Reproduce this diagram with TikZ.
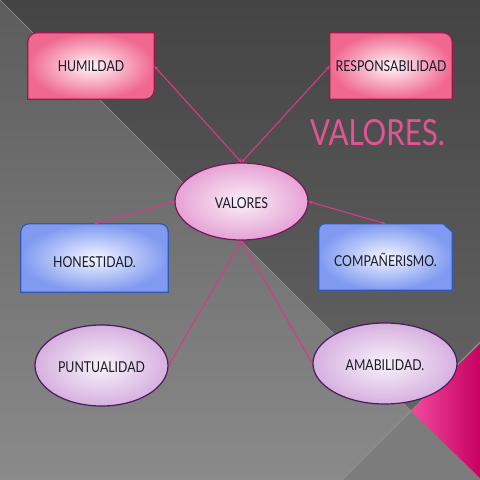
\documentclass[tikz,border=0pt]{standalone}
\usepackage{fontspec}
\newfontfamily\lbl[FakeStretch=0.82]{Lato}
\usetikzlibrary{shapes.geometric,arrows.meta,calc}
\pgfdeclarelayer{bg}
\pgfdeclarelayer{shp}
\pgfsetlayers{bg,shp,main}
\definecolor{bgA}{HTML}{5C5C5C}
\definecolor{bgB}{HTML}{8A8A8A}
\definecolor{bgC}{HTML}{444444}
\definecolor{bgD}{HTML}{646464}
\definecolor{bgE}{HTML}{7C7C7C}
\definecolor{diagc}{HTML}{9C9C9C}
\definecolor{triL}{HTML}{F24A9E}
\definecolor{triR}{HTML}{C8005E}
\definecolor{pinkO}{HTML}{F06890}
\definecolor{pinkI}{HTML}{FFF6F9}
\definecolor{pinkB}{HTML}{9C1848}
\definecolor{blueO}{HTML}{7F9AF0}
\definecolor{blueI}{HTML}{F4F6FF}
\definecolor{blueB}{HTML}{3457B0}
\definecolor{valO}{HTML}{E6A2D5}
\definecolor{valI}{HTML}{FBF0F8}
\definecolor{valB}{HTML}{7B1460}
\definecolor{lavO}{HTML}{D6B0E0}
\definecolor{lavI}{HTML}{F8F2FA}
\definecolor{lavB}{HTML}{4E1A5E}
\definecolor{txtc}{HTML}{1A1A28}
\definecolor{connc}{HTML}{D83A84}
\definecolor{ttlc}{HTML}{E35592}
\begin{document}
\begin{tikzpicture}[x=1pt,y=-1pt,
  lblnode/.style={inner sep=0pt, font=\lbl\fontsize{15}{15}\selectfont, text=txtc, text height=10.8pt, text depth=0pt},
  boxnode/.style={lblnode, rectangle},
  ellnode/.style={lblnode, ellipse, text height=13.8pt},
  valell/.style={ellnode, draw=valB, line width=1.2pt, inner color=valI, outer color=valO},
  lavell/.style={ellnode, draw=lavB, line width=1.2pt, inner color=lavI, outer color=lavO},
  pinkbox/.style={draw=pinkB, line width=1.2pt, inner color=pinkI, outer color=pinkO},
  bluebox/.style={draw=blueB, line width=1.2pt, inner color=blueI, outer color=blueO},
  diag/.style={draw=diagc, line width=0.6pt},
  conn/.style={draw=connc, line width=1.1pt, {Stealth[length=4pt,width=3.5pt]}-{Stealth[length=4pt,width=3.5pt]}},
  ttl/.style={inner sep=0pt, font=\lbl\fontsize{36}{36}\selectfont, text=ttlc}
]
\useasboundingbox (0,0) rectangle (480,480);
\begin{pgfonlayer}{bg}
  \fill[top color=bgA, bottom color=bgB] (0,0) -- (411,411) -- (342,480) -- (0,480) -- cycle;
  \fill[top color=bgC, bottom color=bgD] (0,0) -- (480,0) -- (480,342) -- (411,411) -- cycle;
  \fill[bgE] (342,480) -- (411,411) -- (480,342) -- (480,480) -- cycle;
  \draw[diag] (0,0) -- (411,411);
  \draw[diag] (342,480) -- (480,342);
  \shade[left color=triL, right color=triR] (411,411) -- (480,344) -- (480,478) -- cycle;
\end{pgfonlayer}

% title
\node[ttl, anchor=base] (title) at (377.5,145) {VALORES.};

% box nodes
\node[boxnode, minimum width=126pt, minimum height=66pt] (hum) at (91,66) {HUMILDAD};
\node[boxnode, minimum width=122pt, minimum height=66pt] (resp) at (391,66) {RESPONSABILIDAD};
\node[boxnode, minimum width=147pt, minimum height=68pt, text height=18.8pt] (hon) at (94.5,258) {HONESTIDAD.};
\node[boxnode, minimum width=133pt, minimum height=66pt, text height=18.8pt] (comp) at (385.5,257) {COMPAÑERISMO.};

% ellipse nodes
\node[valell, minimum width=133pt, minimum height=77pt] (val) at (241.5,201.5) {VALORES};
\node[lavell, minimum width=133pt, minimum height=81pt] (punt) at (101.5,365.5) {PUNTUALIDAD};
\node[lavell, minimum width=144pt, minimum height=81pt] (amab) at (385,363.5) {AMABILIDAD.};

\begin{pgfonlayer}{shp}
  \path[pinkbox] ($(hum.north west)+(0,9)$) arc[start angle=180,end angle=270,radius=9]
     -- (hum.north east) -- ($(hum.south east)+(0,-9)$) arc[start angle=0,end angle=90,radius=9]
     -- (hum.south west) -- cycle;
  \path[pinkbox] (resp.north west) -- ($(resp.north east)+(-9,0)$) arc[start angle=270,end angle=360,radius=9]
     -- (resp.south east) -- (resp.south west) -- cycle;
  \path[bluebox] (hon.south west) -- ($(hon.north west)+(0,8)$) arc[start angle=180,end angle=270,radius=8]
     -- ($(hon.north east)+(-8,0)$) arc[start angle=270,end angle=360,radius=8]
     -- (hon.south east) -- cycle;
  \path[bluebox] (comp.south west) -- ($(comp.north west)+(0,6)$) arc[start angle=180,end angle=270,radius=6]
     -- ($(comp.north east)+(-9,0)$) -- ($(comp.north east)+(0,8)$)
     -- (comp.south east) -- cycle;
\end{pgfonlayer}

% connectors
\draw[conn] (val.north) -- (hum.east);
\draw[conn] (val.north) -- (resp.west);
\draw[conn] (val.west) -- (hon.north);
\draw[conn] (val.east) -- (comp.north);
\draw[conn] (val.south) -- (punt.east);
\draw[conn] (val.south) -- (amab.west);
\end{tikzpicture}
\end{document}
